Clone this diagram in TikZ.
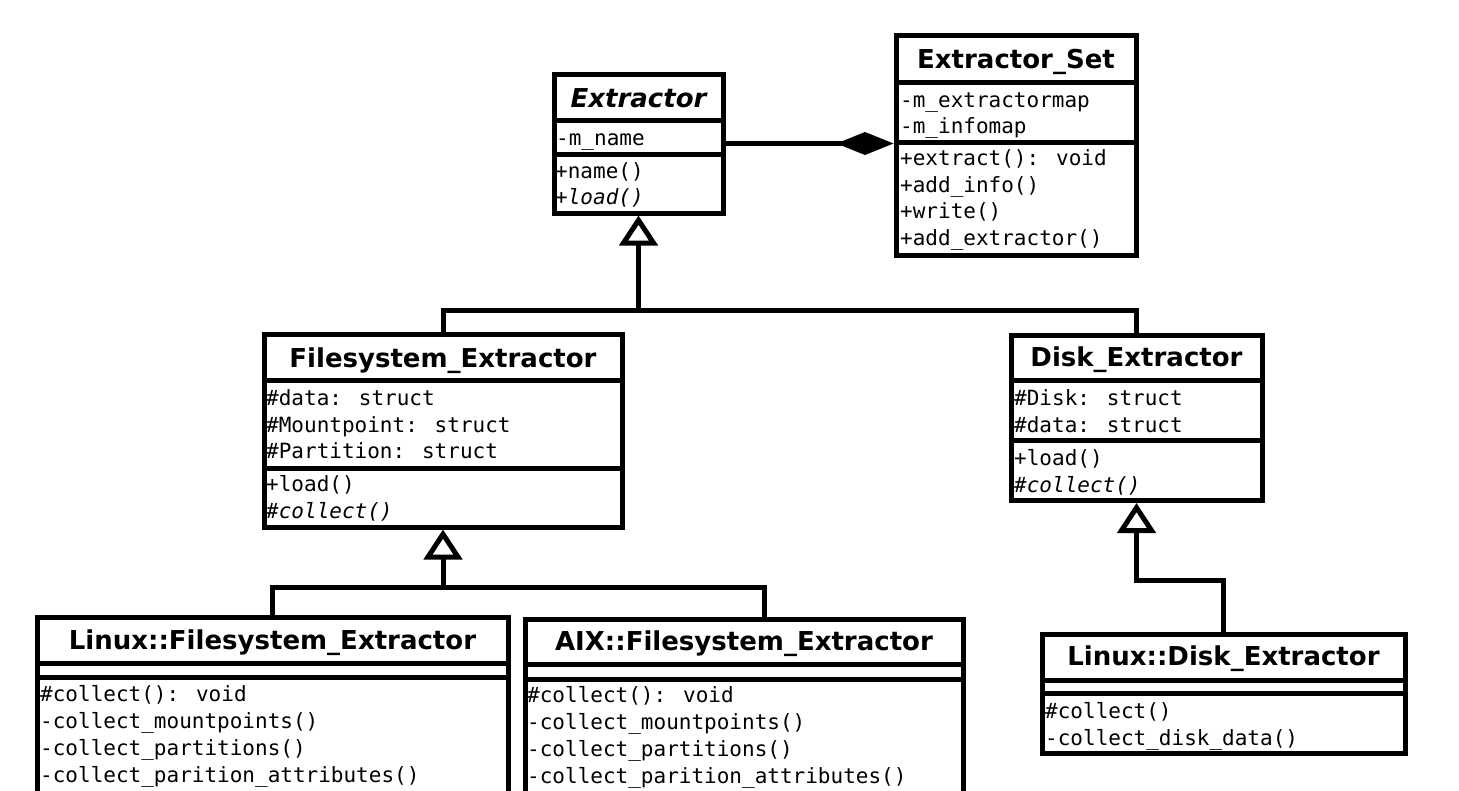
\documentclass[tikz,border=0pt]{standalone}
\usepackage{fontspec}
\setmainfont{DejaVu Sans}
\newfontfamily\umlmono{DejaVu Sans Mono}
\usetikzlibrary{arrows.meta,fit}
\tikzset{
  box/.style={draw, line width=5pt, inner sep=0pt, outer sep=2.5pt},
  sepline/.style={line width=5pt},
  conn/.style={line width=5pt},
  ttl/.style={anchor=base, inner sep=0pt, font=\fontsize{26}{30}\selectfont\bfseries},
  mem/.style={anchor=base west, inner sep=0pt, font=\umlmono\fontsize{21}{25}\selectfont},
  memi/.style={anchor=base west, inner sep=0pt, font=\umlmono\fontsize{21}{25}\selectfont\itshape},
  inh/.style={conn, -{Triangle[open, length=30pt, width=38pt]}},
  comp/.style={conn, -{Diamond[length=57pt, width=23pt]}},
}
\begin{document}
\begin{tikzpicture}[x=1pt,y=-1pt]
\path[use as bounding box, clip] (0,0) rectangle (1459,790);
\fill[white] (0,0) rectangle (1459,790);

% Extractor
\node[box, fit={(554,74) (723,213)}] (ext) {};
\draw[sepline] (554,120.5) -- (723,120.5);
\draw[sepline] (554,154.5) -- (723,154.5);
\node[ttl, font=\fontsize{26}{30}\selectfont\bfseries\itshape] (extT) at (638.5,107) {Extractor};
\node[mem] (ext1) at (556,145) {-m\_name};
\node[mem] (ext2) at (555,178) {+name()};
\node[memi] (ext3) at (555,204) {+load()};

% Extractor_Set
\node[box, fit={(896,35) (1136,255)}] (set) {};
\draw[sepline] (896,82.5) -- (1136,82.5);
\draw[sepline] (896,142.5) -- (1136,142.5);
\node[ttl] (setT) at (1016,68) {Extractor\_Set};
\node[mem] (set1) at (900,107) {-m\_extractormap};
\node[mem] (set2) at (900,133) {-m\_infomap};
\node[mem] (set3) at (900,165) {+extract(): void};
\node[mem] (set4) at (900,192) {+add\_info()};
\node[mem] (set5) at (900,218) {+write()};
\node[mem] (set6) at (900,245) {+add\_extractor()};

% Filesystem_Extractor
\node[box, fit={(264,334) (622,527)}] (fs) {};
\draw[sepline] (264,380.5) -- (622,380.5);
\draw[sepline] (264,468.5) -- (622,468.5);
\node[ttl] (fsT) at (443,367) {Filesystem\_Extractor};
\node[mem] (fs1) at (266,405) {\#data: struct};
\node[mem] (fs2) at (266,432) {\#Mountpoint: struct};
\node[mem] (fs3) at (266,458) {\#Partition: struct};
\node[mem] (fs4) at (266,491) {+load()};
\node[memi] (fs5) at (266,518) {\#collect()};

% Disk_Extractor
\node[box, fit={(1011,335) (1262,500.5)}] (disk) {};
\draw[sepline] (1011,380.5) -- (1262,380.5);
\draw[sepline] (1011,440.5) -- (1262,440.5);
\node[ttl] (diskT) at (1136.5,366) {Disk\_Extractor};
\node[mem] (disk1) at (1014,405) {\#Disk: struct};
\node[mem] (disk2) at (1014,432) {\#data: struct};
\node[mem] (disk3) at (1014,465) {+load()};
\node[memi] (disk4) at (1014,492) {\#collect()};

% Linux::Filesystem_Extractor
\node[box, fit={(37,617) (508,810)}] (linfs) {};
\draw[sepline] (37,663.5) -- (508,663.5);
\draw[sepline] (37,677.5) -- (508,677.5);
\node[ttl] (linfsT) at (272.5,649) {Linux::Filesystem\_Extractor};
\node[mem] (linfs1) at (40,701) {\#collect(): void};
\node[mem] (linfs2) at (40,728) {-collect\_mountpoints()};
\node[mem] (linfs3) at (40,755) {-collect\_partitions()};
\node[mem] (linfs4) at (40,782) {-collect\_parition\_attributes()};

% AIX::Filesystem_Extractor
\node[box, fit={(525,619) (963,810)}] (aix) {};
\draw[sepline] (525,664.5) -- (963,664.5);
\draw[sepline] (525,679.5) -- (963,679.5);
\node[ttl] (aixT) at (744,650) {AIX::Filesystem\_Extractor};
\node[mem] (aix1) at (527,702) {\#collect(): void};
\node[mem] (aix2) at (527,729) {-collect\_mountpoints()};
\node[mem] (aix3) at (527,756) {-collect\_partitions()};
\node[mem] (aix4) at (527,783) {-collect\_parition\_attributes()};

% Linux::Disk_Extractor
\node[box, fit={(1042,634.5) (1405,753.5)}] (ldisk) {};
\draw[sepline] (1042,680.5) -- (1405,680.5);
\draw[sepline] (1042,693.5) -- (1405,693.5);
\node[ttl] (ldiskT) at (1223.5,665) {Linux::Disk\_Extractor};
\node[mem] (ldisk1) at (1045,718) {\#collect()};
\node[mem] (ldisk2) at (1045,745) {-collect\_disk\_data()};

% connectors
\draw[comp] (ext.east) -- (ext.east -| set.west);
\draw[inh] (fs.north) |- (ext.south |- 0,310) -- (ext.south);
\draw[conn] (disk.north) |- (ext.south |- 0,310);
\draw[inh] (linfs.north) |- (fs.south |- 0,587) -- (fs.south);
\draw[conn] ([xshift=20pt]aix.north) |- (fs.south |- 0,587);
\draw[inh] (ldisk.north) |- (disk.south |- 0,580) -- (disk.south);
\end{tikzpicture}
\end{document}
